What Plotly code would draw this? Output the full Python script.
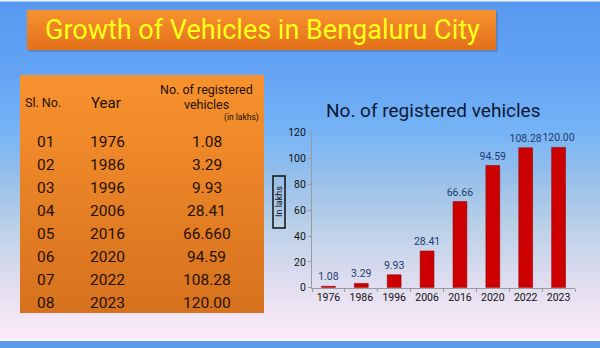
import plotly.graph_objects as go

# ---------------- data ----------------
years = ["1976", "1986", "1996", "2006", "2016", "2020", "2022", "2023"]
sl_no = ["01", "02", "03", "04", "05", "06", "07", "08"]
table_values = ["1.08", "3.29", "9.93", "28.41", "66.660", "94.59", "108.28", "120.00"]
bar_values = [1.08, 3.29, 9.93, 28.41, 66.66, 94.59, 108.28, 108.6]
bar_labels = ["1.08", "3.29", "9.93", "28.41", "66.66", "94.59", "108.28", "120.00"]
y_ticks = [0, 20, 40, 60, 80, 100, 120]

W, H = 600, 348
FONT = "Roboto"


def px(x):
    return x / W


def py(y):
    return 1 - y / H


def lerp_color(stops, t):
    for i in range(len(stops) - 1):
        t0, c0 = stops[i]
        t1, c1 = stops[i + 1]
        if t0 <= t <= t1:
            f = (t - t0) / (t1 - t0) if t1 > t0 else 0
            c = [round(c0[k] + (c1[k] - c0[k]) * f) for k in range(3)]
            return "rgb(%d,%d,%d)" % tuple(c)
    c = stops[-1][1]
    return "rgb(%d,%d,%d)" % c


shapes = []


def gradient_rect(x0, y0, x1, y1, stops, n=40):
    h = (y1 - y0) / n
    for i in range(n):
        t = (i + 0.5) / n
        shapes.append(dict(
            type="rect", xref="paper", yref="paper", layer="below",
            x0=px(x0), x1=px(x1), y0=py(min(y1, y0 + (i + 1) * h + 1.0)), y1=py(y0 + i * h),
            fillcolor=lerp_color(stops, t), line=dict(width=0),
        ))


# page background gradient
gradient_rect(0, 0, 600, 339, [
    (0.0, (88, 152, 240)),
    (0.25, (102, 166, 244)),
    (0.40, (120, 181, 246)),
    (0.52, (150, 191, 234)),
    (0.66, (184, 207, 231)),
    (0.80, (216, 218, 238)),
    (0.92, (240, 228, 244)),
    (1.0, (251, 234, 248)),
], n=80)
shapes.append(dict(type="rect", xref="paper", yref="paper", layer="below",
                   x0=0, x1=1, y0=py(1.5), y1=1, fillcolor="#eef4fd", line=dict(width=0)))
shapes.append(dict(type="rect", xref="paper", yref="paper", layer="below",
                   x0=0, x1=1, y0=py(341), y1=py(339), fillcolor="#fdf3fb", line=dict(width=0)))
shapes.append(dict(type="rect", xref="paper", yref="paper", layer="below",
                   x0=0, x1=1, y0=0, y1=py(341), fillcolor="#5b9ae8", line=dict(width=0)))

# title box shadow + box
shapes.append(dict(type="rect", xref="paper", yref="paper", layer="below",
                   x0=px(28), x1=px(498), y0=py(52), y1=py(12),
                   fillcolor="rgba(60,60,90,0.25)", line=dict(width=0)))
gradient_rect(27, 10, 496, 50, [(0.0, (247, 146, 48)), (1.0, (228, 112, 26))], n=20)
# table box
gradient_rect(20, 75, 264, 313, [(0.0, (248, 146, 46)), (1.0, (214, 113, 30))], n=60)

# "In lakhs" box
shapes.append(dict(type="rect", xref="paper", yref="paper", layer="above",
                   x0=px(273), x1=px(285), y0=py(228), y1=py(176),
                   fillcolor="rgba(0,0,0,0)", line=dict(color="#111111", width=1.5)))

annotations = []


def add_text(text, x, y, size, color, xanchor="center", angle=0):
    annotations.append(dict(text=text, x=px(x), y=py(y), xref="paper", yref="paper",
                            showarrow=False, textangle=angle,
                            font=dict(family=FONT, size=size, color=color),
                            xanchor=xanchor, yanchor="middle"))


add_text("Growth of Vehicles in Bengaluru City", 262, 30, 27, "#ffff1a")

txt = "#241002"
add_text("Sl. No.", 43, 103, 12.5, txt)
add_text("Year", 106, 103, 15, txt)
add_text("No. of registered", 207, 90, 12.5, txt)
add_text("vehicles", 207, 104, 12.5, txt)
add_text("(in lakhs)", 261, 117, 8.5, txt, xanchor="right")

for i, (s, yr, v) in enumerate(zip(sl_no, years, table_values)):
    yc = 142 + 23 * i
    add_text(s, 35, yc, 15.5, txt, xanchor="left")
    add_text(yr, 107, yc, 15.5, txt)
    add_text(v, 207, yc, 15.5, txt)

add_text("No. of registered vehicles", 433, 110, 19, "#0b1733")
add_text("In lakhs", 279, 202, 9, "#111111", angle=-90)

fig = go.Figure()
fig.add_trace(go.Bar(
    x=years, y=bar_values, text=bar_labels, textposition="outside",
    constraintext="none", cliponaxis=False, width=0.42,
    marker=dict(color="#cc0000", line=dict(color="#9a0000", width=0.6)),
    textfont=dict(family=FONT, size=10.5, color="#1f3a6e"),
    hoverinfo="skip",
))

fig.update_layout(
    width=W, height=H, autosize=False,
    margin=dict(l=0, r=0, t=0, b=0, pad=0, autoexpand=False),
    paper_bgcolor="#a8c8ee", plot_bgcolor="rgba(0,0,0,0)",
    showlegend=False,
    shapes=shapes, annotations=annotations,
    font=dict(family=FONT),
    xaxis=dict(domain=[px(312), px(575)], type="category", tickangle=0, automargin=False,
               showline=True, linecolor="#9a9a9a", linewidth=1,
               ticks="outside", tickson="boundaries", ticklen=3, tickcolor="#9a9a9a",
               tickfont=dict(family=FONT, size=10.5, color="#111111"),
               showgrid=False, zeroline=False, fixedrange=True),
    yaxis=dict(domain=[py(287.7), py(132.7)], range=[0, 120], tickvals=y_ticks, automargin=False,
               showline=True, linecolor="#9a9a9a", linewidth=1,
               ticks="outside", ticklen=3, tickcolor="#9a9a9a",
               tickfont=dict(family=FONT, size=10.5, color="#111111"),
               showgrid=False, zeroline=False, fixedrange=True),
)

post = (
    "document.documentElement.style.margin='0';"
    "document.body.style.margin='0';document.body.style.overflow='hidden';"
)

fig.write_html("out.html", post_script=post, config={"displayModeBar": False})
